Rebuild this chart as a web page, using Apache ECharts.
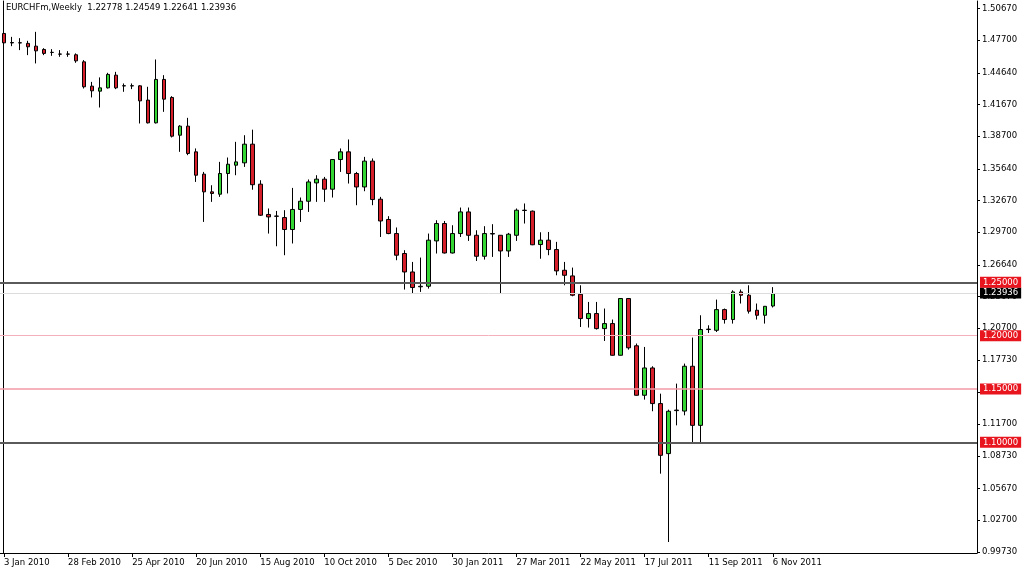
<!DOCTYPE html>
<html>
<head>
<meta charset="utf-8">
<script src="https://cdn.jsdelivr.net/npm/echarts/dist/echarts.min.js"></script>
<style>
html,body{margin:0;padding:0;background:#fff;}
#chart{width:1024px;height:576px;}
</style>
</head>
<body>
<div id="chart"></div>
<script>
// ---- data (weekly EURCHF candles) ----
const symbolName = 'EURCHFm,Weekly';
const startDate = '2010-01-03';   // first weekly bar
const totalSlots = 122;           // bar slots visible across the chart width
const opens = [1.4833,1.4748,1.4746,1.4740,1.4714,1.4683,1.4656,1.4640,1.4640,1.4633,
  1.4567,1.4339,1.4292,1.4323,1.4442,1.4343,1.4343,1.4342,1.4208,1.3995,
  1.4402,1.4233,1.3879,1.3964,1.3723,1.3514,1.3348,1.3326,1.3520,1.3598,
  1.3620,1.3795,1.3420,1.3136,1.3121,1.3107,1.2995,1.3183,1.3260,1.3432,
  1.3467,1.3373,1.3651,1.3723,1.3520,1.3394,1.3636,1.3279,1.3089,1.2957,
  1.2770,1.2597,1.2458,1.2463,1.2888,1.3051,1.2775,1.2957,1.3160,1.2941,
  1.2744,1.2957,1.2941,1.2794,1.2941,1.3176,1.3167,1.2854,1.2895,1.2807,
  1.2613,1.2560,1.2388,1.2160,1.2207,1.2066,1.2113,1.1816,1.2348,1.1905,
  1.1441,1.1697,1.1363,1.0894,1.1297,1.1293,1.1713,1.1159,1.2057,1.2050,
  1.2244,1.2151,1.2410,1.2379,1.2238,1.2191,1.22778];
const closes = [1.4745,1.4744,1.4744,1.4708,1.4670,1.4646,1.4655,1.4639,1.4639,1.4576,
  1.4333,1.4295,1.4323,1.4449,1.4323,1.4341,1.4341,1.4201,1.3995,1.4402,
  1.4217,1.3870,1.3964,1.3708,1.3504,1.3348,1.3333,1.3520,1.3607,1.3629,
  1.3795,1.3415,1.3129,1.3113,1.3119,1.2995,1.3183,1.3260,1.3441,1.3467,
  1.3373,1.3651,1.3723,1.3520,1.3394,1.3636,1.3276,1.3075,1.2957,1.2754,
  1.2597,1.2451,1.2463,1.2895,1.3051,1.2775,1.2957,1.3160,1.2941,1.2744,
  1.2957,1.2953,1.2794,1.2951,1.3176,1.3173,1.2852,1.2895,1.2807,1.2607,
  1.2566,1.2379,1.2160,1.2207,1.2066,1.2113,1.1816,1.2348,1.1886,1.1441,
  1.1697,1.1363,1.0878,1.1291,1.1302,1.1713,1.1159,1.2057,1.2061,1.2244,
  1.2151,1.2410,1.2379,1.2229,1.2191,1.2275,1.23936];
const lows = [1.4733,1.4714,1.4677,1.4630,1.4552,1.4630,1.4623,1.4614,1.4614,1.4558,
  1.4317,1.4233,1.4139,1.4317,1.4311,1.4286,1.4311,1.3989,1.3989,1.3989,
  1.4098,1.3858,1.3723,1.3692,1.3441,1.3066,1.3254,1.3301,1.3333,1.3504,
  1.3582,1.3368,1.3122,1.2957,1.2838,1.2754,1.2864,1.3066,1.3160,1.3254,
  1.3254,1.3295,1.3535,1.3426,1.3223,1.3354,1.3223,1.2925,1.2951,1.2707,
  1.2432,1.2395,1.2410,1.2441,1.2770,1.2770,1.2770,1.2925,1.2888,1.2700,
  1.2713,1.2738,1.2395,1.2738,1.2888,1.3051,1.2848,1.2721,1.2754,1.2566,
  1.2472,1.2369,1.2081,1.2076,1.2057,1.1950,1.1813,1.1813,1.1869,1.1438,
  1.1400,1.1291,1.0706,1.0065,1.1159,1.1253,1.0993,1.0993,1.2025,1.2034,
  1.2113,1.2113,1.2301,1.2207,1.2151,1.2113,1.22641];
const highs = [1.4883,1.4801,1.4789,1.4764,1.4848,1.4695,1.4686,1.4677,1.4667,1.4646,
  1.4583,1.4379,1.4421,1.4464,1.4473,1.4364,1.4364,1.4348,1.4333,1.4589,
  1.4442,1.4245,1.3973,1.4042,1.3755,1.3535,1.3410,1.3629,1.3670,1.3817,
  1.3879,1.3931,1.3457,1.3192,1.3169,1.3176,1.3385,1.3295,1.3464,1.3504,
  1.3488,1.3655,1.3755,1.3839,1.3535,1.3676,1.3661,1.3301,1.3120,1.3014,
  1.2801,1.2691,1.2732,1.2957,1.3082,1.3075,1.3035,1.3201,1.3201,1.2988,
  1.3026,1.3045,1.2943,1.2963,1.3192,1.3239,1.3173,1.2969,1.2972,1.2879,
  1.2691,1.2638,1.2472,1.2316,1.2316,1.2254,1.2151,1.2351,1.2351,1.1926,
  1.1894,1.1713,1.1456,1.1306,1.1550,1.1738,1.1982,1.2191,1.2097,1.2338,
  1.2254,1.2425,1.2432,1.2472,1.2301,1.2278,1.24549];
// price axis tick labels
const yTicks = [1.5067,1.4770,1.4464,1.4167,1.3870,1.3564,1.3267,1.2970,1.2664,1.2367,
  1.2070,1.1773,1.1470,1.1170,1.0873,1.0567,1.0270,0.9973];
// horizontal levels drawn on the chart
const keyLevels = [1.25, 1.20, 1.15, 1.10];
const yMin = 0.99622, yMax = 1.51373;

// ---- build categories ----
const MONTHS = ['Jan','Feb','Mar','Apr','May','Jun','Jul','Aug','Sep','Oct','Nov','Dec'];
const categories = [];
{
  const d0 = new Date(startDate + 'T00:00:00Z');
  for (let i = 0; i < totalSlots; i++) {
    const d = new Date(d0.getTime() + i * 7 * 86400000);
    categories.push(d.getUTCDate() + ' ' + MONTHS[d.getUTCMonth()] + ' ' + d.getUTCFullYear());
  }
}
const nBars = opens.length;
const candles = opens.map((o, i) => [o, closes[i], lows[i], highs[i]]);
const last = nBars - 1;
const lastClose = closes[last];
const titleText = symbolName + '  ' + [opens[last], highs[last], lows[last], closes[last]].map(v => v.toFixed(5)).join(' ');

const labelInterval = (i) => i % 8 === 0 && i < nBars;
const FONT = 'DejaVu Sans';

const levelStyles = {
  '1.25': {color: '#5a5a5a', width: 2},
  '1.2':  {color: '#f5b0bc', width: 1},
  '1.15': {color: '#f59aa6', width: 1.5},
  '1.1':  {color: '#5a5a5a', width: 2}
};
const markData = keyLevels.map(v => ({
  yAxis: v,
  lineStyle: Object.assign({type: 'solid'}, levelStyles[String(v)]),
  label: {show: true, position: 'end', distance: 3, formatter: () => v.toFixed(5),
    backgroundColor: '#e8141e', color: '#fff', padding: [1, 3, 1, 3],
    fontFamily: FONT, fontSize: 8.5}
}));
markData.unshift({
  yAxis: lastClose,
  lineStyle: {type: 'solid', color: '#dcdcdc', width: 1},
  label: {show: true, position: 'end', distance: 3, formatter: () => lastClose.toFixed(5),
    backgroundColor: '#000', color: '#fff', padding: [1, 3, 1, 3],
    fontFamily: FONT, fontSize: 8.5}
});

const chart = echarts.init(document.getElementById('chart'), null, {renderer: 'canvas'});
chart.setOption({
  animation: false,
  backgroundColor: '#fff',
  title: {
    text: titleText, left: 5, top: 3, padding: [0, 0, 0, 1],
    textStyle: {fontFamily: FONT, fontSize: 8.5, fontWeight: 'normal', color: '#000'}
  },
  grid: {left: -0.5, right: 47, top: 1, bottom: 23},
  xAxis: {
    type: 'category', data: categories, boundaryGap: true,
    axisLine: {show: true, lineStyle: {color: '#000', width: 1}},
    axisTick: {show: true, alignWithLabel: true, interval: labelInterval, length: 4, lineStyle: {color: '#000'}},
    axisLabel: {interval: labelInterval, align: 'left', margin: 5,
      fontFamily: FONT, fontSize: 8.5, color: '#000'},
    splitLine: {show: false}
  },
  yAxis: [{
    type: 'value', position: 'right', min: yMin, max: yMax,
    axisLine: {show: true, lineStyle: {color: '#000', width: 1}},
    axisTick: {show: true, length: 3, customValues: yTicks, lineStyle: {color: '#000'}},
    axisLabel: {customValues: yTicks, formatter: v => v.toFixed(5), margin: 5,
      fontFamily: FONT, fontSize: 8.5, color: '#000'},
    splitLine: {show: false}
  }, {
    type: 'value', position: 'left', offset: -3.5, min: yMin, max: yMax,
    axisLine: {show: true, lineStyle: {color: '#000', width: 1}},
    axisTick: {show: false}, axisLabel: {show: false}, splitLine: {show: false}
  }],
  series: [{
    type: 'candlestick',
    data: candles,
    barWidth: 4,
    itemStyle: {
      color: '#33d633', color0: '#d41f2a',
      borderColor: '#000', borderColor0: '#000', borderWidth: 1
    },
    markLine: {
      silent: true, symbol: ['none', 'none'], animation: false,
      data: markData
    }
  }]
});
</script>
</body>
</html>
